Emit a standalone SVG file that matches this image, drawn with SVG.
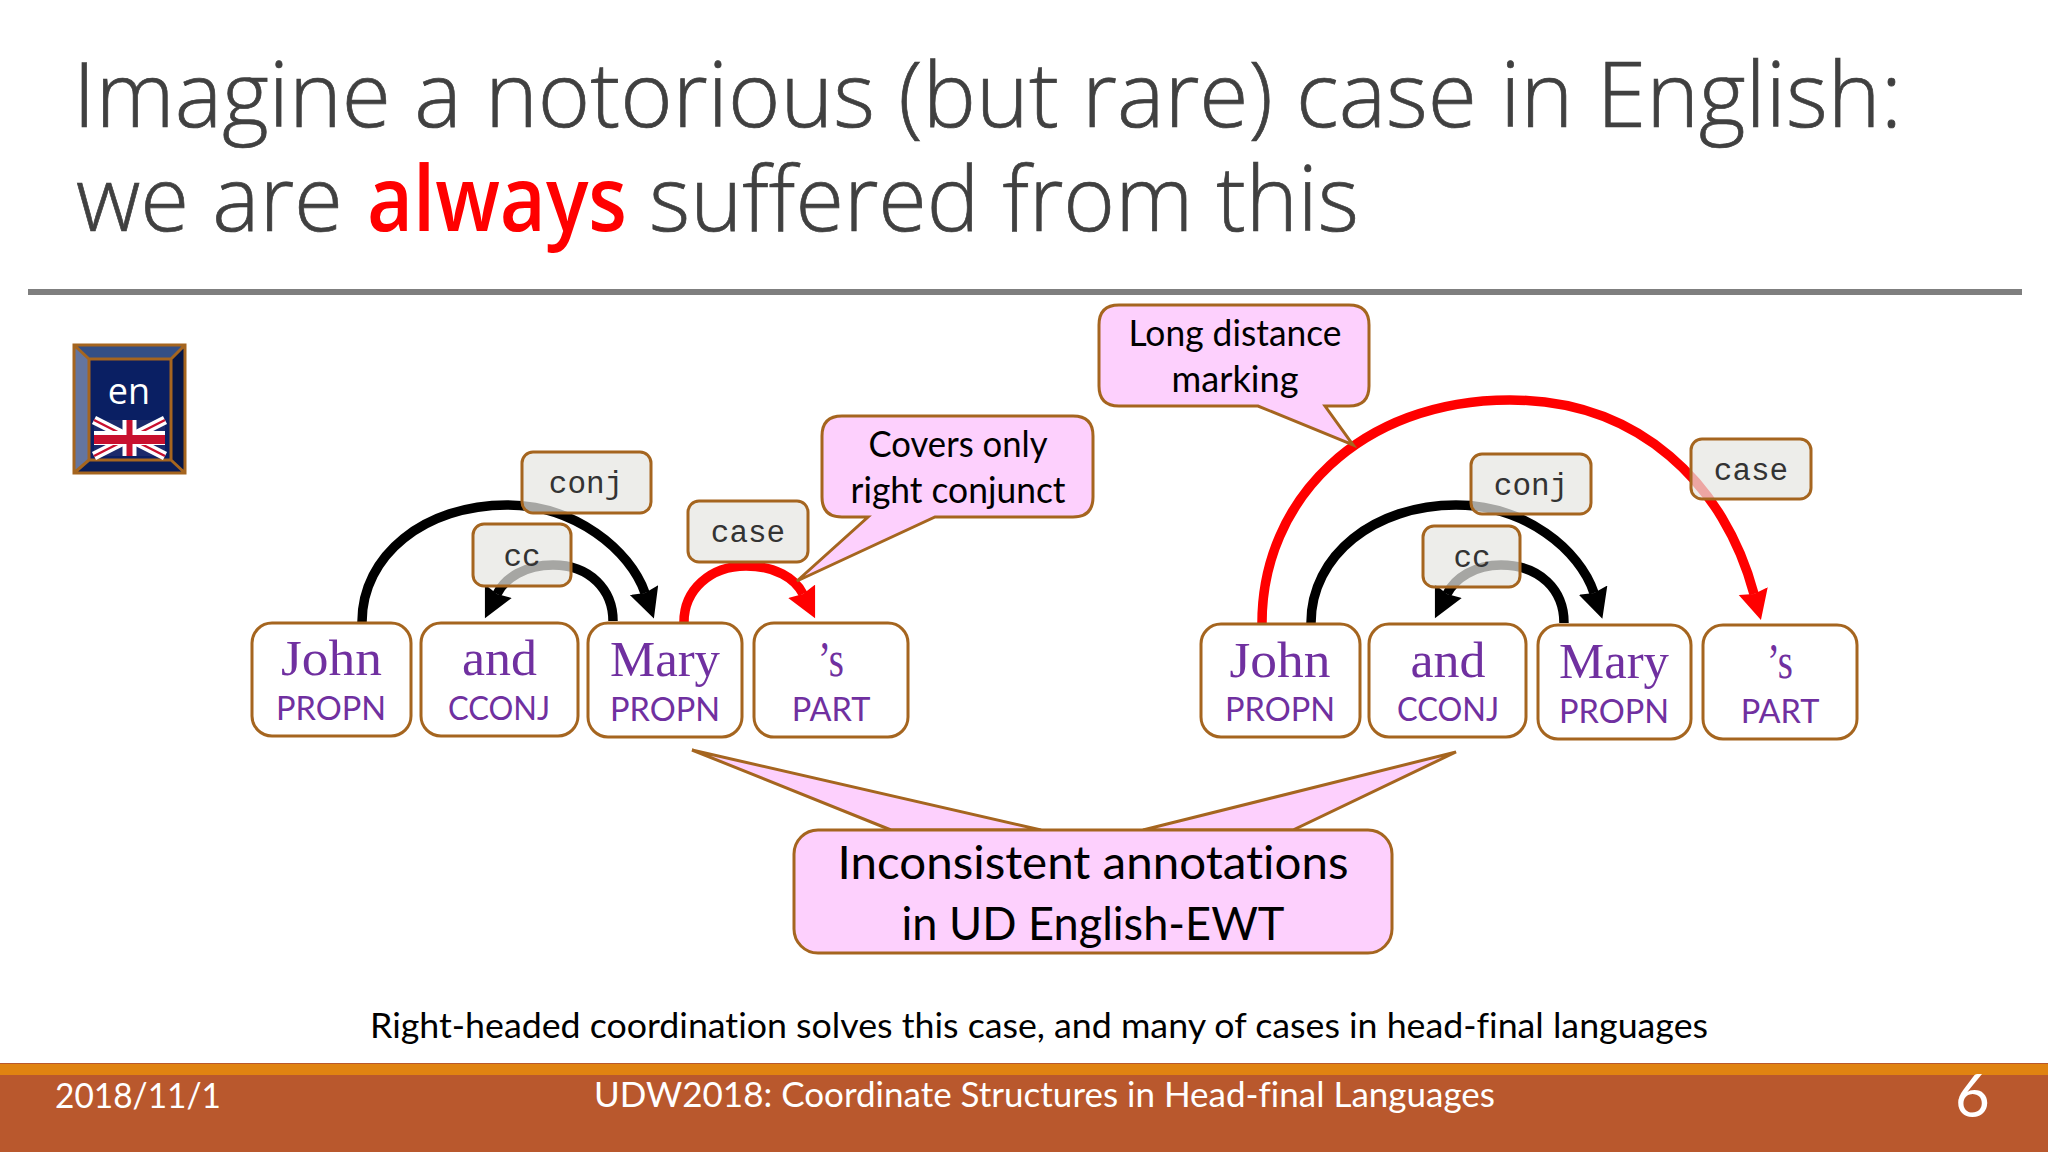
<svg xmlns="http://www.w3.org/2000/svg" width="2048" height="1152" viewBox="0 0 2048 1152">
<defs>
<style>
text{font-variant-ligatures:none}
.title{font-family:"Open Sans",sans-serif;font-weight:300;font-size:90px;fill:#404040;stroke:#404040;stroke-width:.7}
.node{fill:#fff;stroke:#a5651f;stroke-width:3}
.lab{fill:#e6e6e2;fill-opacity:.72;stroke:#a5651f;stroke-width:3}
.call{fill:#fdd0fd;stroke:#a5651f;stroke-width:3;stroke-linejoin:miter}
.w{font-family:"Liberation Serif",serif;font-size:50px;fill:#7030a0;text-anchor:middle}
.p{font-family:"Lato",sans-serif;font-size:32.5px;fill:#7030a0;text-anchor:middle}
.m{font-family:"Liberation Mono",monospace;font-size:31px;fill:#333;text-anchor:middle}
.c{font-family:"Lato",sans-serif;font-size:36px;fill:#000;text-anchor:middle}
.big{font-family:"Lato",sans-serif;font-size:47px;fill:#000;text-anchor:middle}
.f{font-family:"Lato",sans-serif;fill:#fff}
.k{fill:none;stroke:#000;stroke-width:9.500}
.r{fill:none;stroke:#f00;stroke-width:9.500}
</style>
<marker id="ak" markerUnits="userSpaceOnUse" markerWidth="36" markerHeight="36" refX="3" refY="15" orient="auto"><path d="M0 0L30 15L0 30L3 15Z" fill="#000"/></marker>
<marker id="ar" markerUnits="userSpaceOnUse" markerWidth="36" markerHeight="36" refX="3" refY="15" orient="auto"><path d="M0 0L30 15L0 30L3 15Z" fill="#f00"/></marker>
</defs>
<rect width="2048" height="1152" fill="#fff"/>
<text class="title" x="73" y="127" textLength="1829" lengthAdjust="spacingAndGlyphs">Imagine a notorious (but rare) case in English:</text>
<text class="title" x="76" y="231" textLength="267" lengthAdjust="spacingAndGlyphs">we are</text>
<text x="367" y="231" font-family="Open Sans,sans-serif" font-weight="600" font-size="90" fill="#f00" textLength="260" lengthAdjust="spacingAndGlyphs">always</text>
<text class="title" x="649" y="231" textLength="710" lengthAdjust="spacingAndGlyphs">suffered from this</text>
<rect x="28" y="289" width="1994" height="6" fill="#7f7f7f"/>
<g id="badge">
<rect x="74" y="345" width="111" height="128" fill="#0a1f63"/>
<polygon points="74,345 185,345 171,359 89,359" fill="#344f85"/>
<polygon points="74,345 89,359 89,460 74,473" fill="#64759f"/>
<polygon points="185,345 171,359 171,460 185,473" fill="#061647"/>
<polygon points="74,473 89,460 171,460 185,473" fill="#0a1d58"/>
<path d="M74 345H185V473H74ZM89 359H171V460H89ZM74 345L89 359M185 345L171 359M74 473L89 460M185 473L171 460" fill="none" stroke="#a5651f" stroke-width="3"/>
<text x="129" y="404" font-family="Open Sans,sans-serif" font-size="36" fill="#fff" text-anchor="middle">en</text>
<rect x="94" y="420" width="71" height="36" fill="#1b2a6b"/>
<path d="M94 420L165 456M165 420L94 456" stroke="#fff" stroke-width="9"/>
<path d="M94 420L165 456M165 420L94 456" stroke="#c8102e" stroke-width="2.500"/>
<path d="M129.500 420V456M94 438H165" stroke="#fff" stroke-width="14"/>
<path d="M129.500 420V456" stroke="#c8102e" stroke-width="6"/>
<path d="M94 439.500H165" stroke="#c8102e" stroke-width="9"/>
</g>
<g id="connectors">
<path class="k" d="M362 622C362 555 425 505 507 505C575 505 630 550 645 593" marker-end="url(#ak)"/>
<path class="k" d="M613 621C613 590 590 565 553 565C525 565 505 578 497 594" marker-end="url(#ak)"/>
<path class="r" d="M684 622C684 590 710 566 746 566C775 566 795 578 803 594" marker-end="url(#ar)"/>
<path class="r" d="M1262 623C1262 500 1360 400 1510 400C1640 400 1725 485 1754 594" marker-end="url(#ar)"/>
<path class="k" d="M1311 623C1311 555 1375 505 1456 505C1525 505 1580 550 1594 593" marker-end="url(#ak)"/>
<path class="k" d="M1564 623C1564 590 1540 565 1501 565C1475 565 1455 578 1447 594" marker-end="url(#ak)"/>
</g>
<g id="label-conj-1"><rect class="lab" x="522" y="452" width="129" height="61" rx="11"/><text class="m" x="586" y="493">conj</text></g>
<g id="label-cc-1"><rect class="lab" x="473" y="524" width="98" height="62" rx="11"/><text class="m" x="522" y="566">cc</text></g>
<g id="label-case-1"><rect class="lab" x="688" y="501" width="120" height="61" rx="11"/><text class="m" x="748" y="542">case</text></g>
<g id="label-conj-2"><rect class="lab" x="1471" y="454" width="120" height="60" rx="11"/><text class="m" x="1531" y="495">conj</text></g>
<g id="label-cc-2"><rect class="lab" x="1423" y="526" width="97" height="61" rx="11"/><text class="m" x="1472" y="567">cc</text></g>
<g id="label-case-2"><rect class="lab" x="1691" y="439" width="120" height="60" rx="11"/><text class="m" x="1751" y="480">case</text></g>
<g id="n-john-1"><rect class="node" x="252" y="623" width="159" height="113" rx="20"/><text class="w" x="331.500" y="675" textLength="101" lengthAdjust="spacingAndGlyphs">John</text><text class="p" x="331" y="719.500">PROPN</text></g>
<g id="n-and-1"><rect class="node" x="421" y="623" width="157" height="113" rx="20"/><text class="w" x="499.500" y="675" textLength="75" lengthAdjust="spacingAndGlyphs">and</text><text class="p" x="499" y="719.500" textLength="102" lengthAdjust="spacingAndGlyphs">CCONJ</text></g>
<g id="n-mary-1"><rect class="node" x="588" y="623" width="154" height="114" rx="20"/><text class="w" x="665" y="676" textLength="110" lengthAdjust="spacingAndGlyphs">Mary</text><text class="p" x="665" y="720.500">PROPN</text></g>
<g id="n-s-1"><rect class="node" x="754" y="623" width="154" height="114" rx="20"/><text class="w" x="831" y="676" textLength="26" lengthAdjust="spacingAndGlyphs">’s</text><text class="p" x="831" y="720.500">PART</text></g>
<g id="n-john-2"><rect class="node" x="1201" y="624" width="159" height="113" rx="20"/><text class="w" x="1280" y="677" textLength="101" lengthAdjust="spacingAndGlyphs">John</text><text class="p" x="1280" y="720.500">PROPN</text></g>
<g id="n-and-2"><rect class="node" x="1369" y="624" width="157" height="113" rx="20"/><text class="w" x="1448" y="677" textLength="75" lengthAdjust="spacingAndGlyphs">and</text><text class="p" x="1448" y="720.500" textLength="102" lengthAdjust="spacingAndGlyphs">CCONJ</text></g>
<g id="n-mary-2"><rect class="node" x="1538" y="625" width="153" height="114" rx="20"/><text class="w" x="1614" y="678" textLength="110" lengthAdjust="spacingAndGlyphs">Mary</text><text class="p" x="1614" y="722.500">PROPN</text></g>
<g id="n-s-2"><rect class="node" x="1703" y="625" width="154" height="114" rx="20"/><text class="w" x="1780" y="678" textLength="26" lengthAdjust="spacingAndGlyphs">’s</text><text class="p" x="1780" y="722.500">PART</text></g>
<g id="callout-covers"><path class="call" d="M842 416H1073Q1093 416 1093 436V497Q1093 517 1073 517H935L797 581L868 517H842Q822 517 822 497V436Q822 416 842 416Z"/><text class="c" x="958" y="457" textLength="179" lengthAdjust="spacingAndGlyphs">Covers only</text><text class="c" x="958" y="503" textLength="215" lengthAdjust="spacingAndGlyphs">right conjunct</text></g>
<g id="callout-long"><path class="call" d="M1119 305H1349Q1369 305 1369 325V386Q1369 406 1349 406H1325L1353 445L1258 406H1119Q1099 406 1099 386V325Q1099 305 1119 305Z"/><text class="c" x="1235" y="346" textLength="213" lengthAdjust="spacingAndGlyphs">Long distance</text><text class="c" x="1235" y="392" textLength="127" lengthAdjust="spacingAndGlyphs">marking</text></g>
<g id="callout-inconsistent"><path class="call" d="M891 830L692 750L1041 830ZM1143 830L1456 752L1293 830Z"/><rect class="call" x="794" y="830" width="598" height="123" rx="24"/><text class="big" x="1093" y="879" textLength="511" lengthAdjust="spacingAndGlyphs">Inconsistent annotations</text><text class="big" x="1093" y="940" textLength="383" lengthAdjust="spacingAndGlyphs">in UD English-EWT</text></g>
<text x="1039" y="1038" font-family="Lato,sans-serif" font-size="35" fill="#000" text-anchor="middle" textLength="1338" lengthAdjust="spacingAndGlyphs">Right-headed coordination solves this case, and many of cases in head-final languages</text>
<rect y="1063" width="2048" height="89" fill="#b9582d"/>
<rect y="1064" width="2048" height="11" fill="#e08311"/>
<text class="f" x="55" y="1108" font-size="35" textLength="166" lengthAdjust="spacingAndGlyphs">2018/11/1</text>
<text class="f" x="594" y="1107" font-size="35" textLength="901" lengthAdjust="spacingAndGlyphs">UDW2018: Coordinate Structures in Head-final Languages</text>
<text class="f" x="1955" y="1117" font-size="60">6</text>
</svg>
